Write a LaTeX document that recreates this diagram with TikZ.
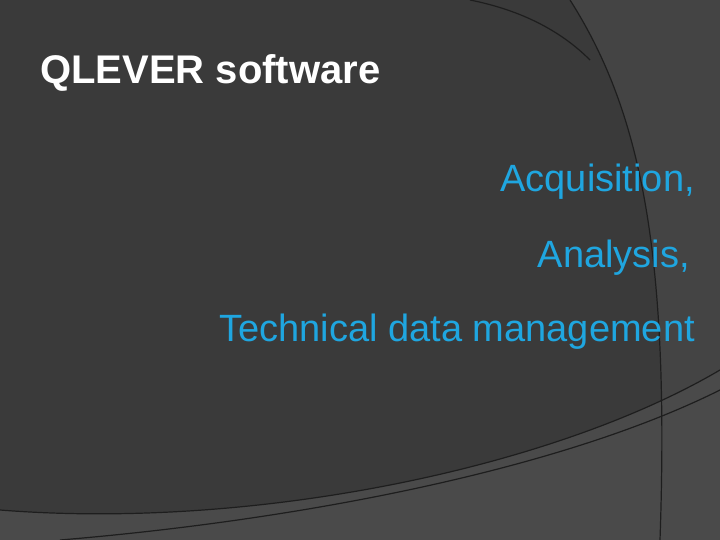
\documentclass[tikz,border=0pt]{standalone}
\usepackage{fontspec}
\setmainfont{Liberation Sans}
\definecolor{bg}{HTML}{3A3A3A}
\definecolor{bgl}{HTML}{444444}
\definecolor{bgb}{HTML}{4A4A4A}
\definecolor{ln}{HTML}{1E1E1E}
\definecolor{tb}{HTML}{1FA6E0}
\tikzset{curve/.style={draw=ln,line width=1.2pt},
 blue/.style={text=tb,font=\fontsize{38}{42}\selectfont,anchor=base east,inner sep=0pt}}
\begin{document}
\begin{tikzpicture}[x=1pt,y=-1pt]
\useasboundingbox (0,0) rectangle (720,540);
\fill[bg] (0,0) rectangle (720,540);
\fill[bgl] (570,0) .. controls (640,110) and (670,250) .. (660,540) -- (720,540) -- (720,0) -- cycle;
\fill[bgb] (0,510) .. controls (250,530) and (550,470) .. (720,370) -- (720,540) -- (0,540) -- cycle;
\draw[curve] (570,0) .. controls (640,110) and (670,250) .. (660,540);
\draw[curve] (0,510) .. controls (250,530) and (550,470) .. (720,370);
\draw[curve] (60,540) .. controls (300,520) and (560,470) .. (720,390);
\draw[curve] (470,0) .. controls (520,10) and (560,30) .. (590,60);
\node[text=white,font=\fontsize{40}{44}\selectfont\bfseries,anchor=base west,inner sep=0pt] (t) at (40,84) {QLEVER software};
\node[blue] (a) at (695,192) {Acquisition,};
\node[blue] (b) at (690,267) {Analysis,};
\node[blue] (c) at (695,341) {Technical data management};
\end{tikzpicture}
\end{document}
